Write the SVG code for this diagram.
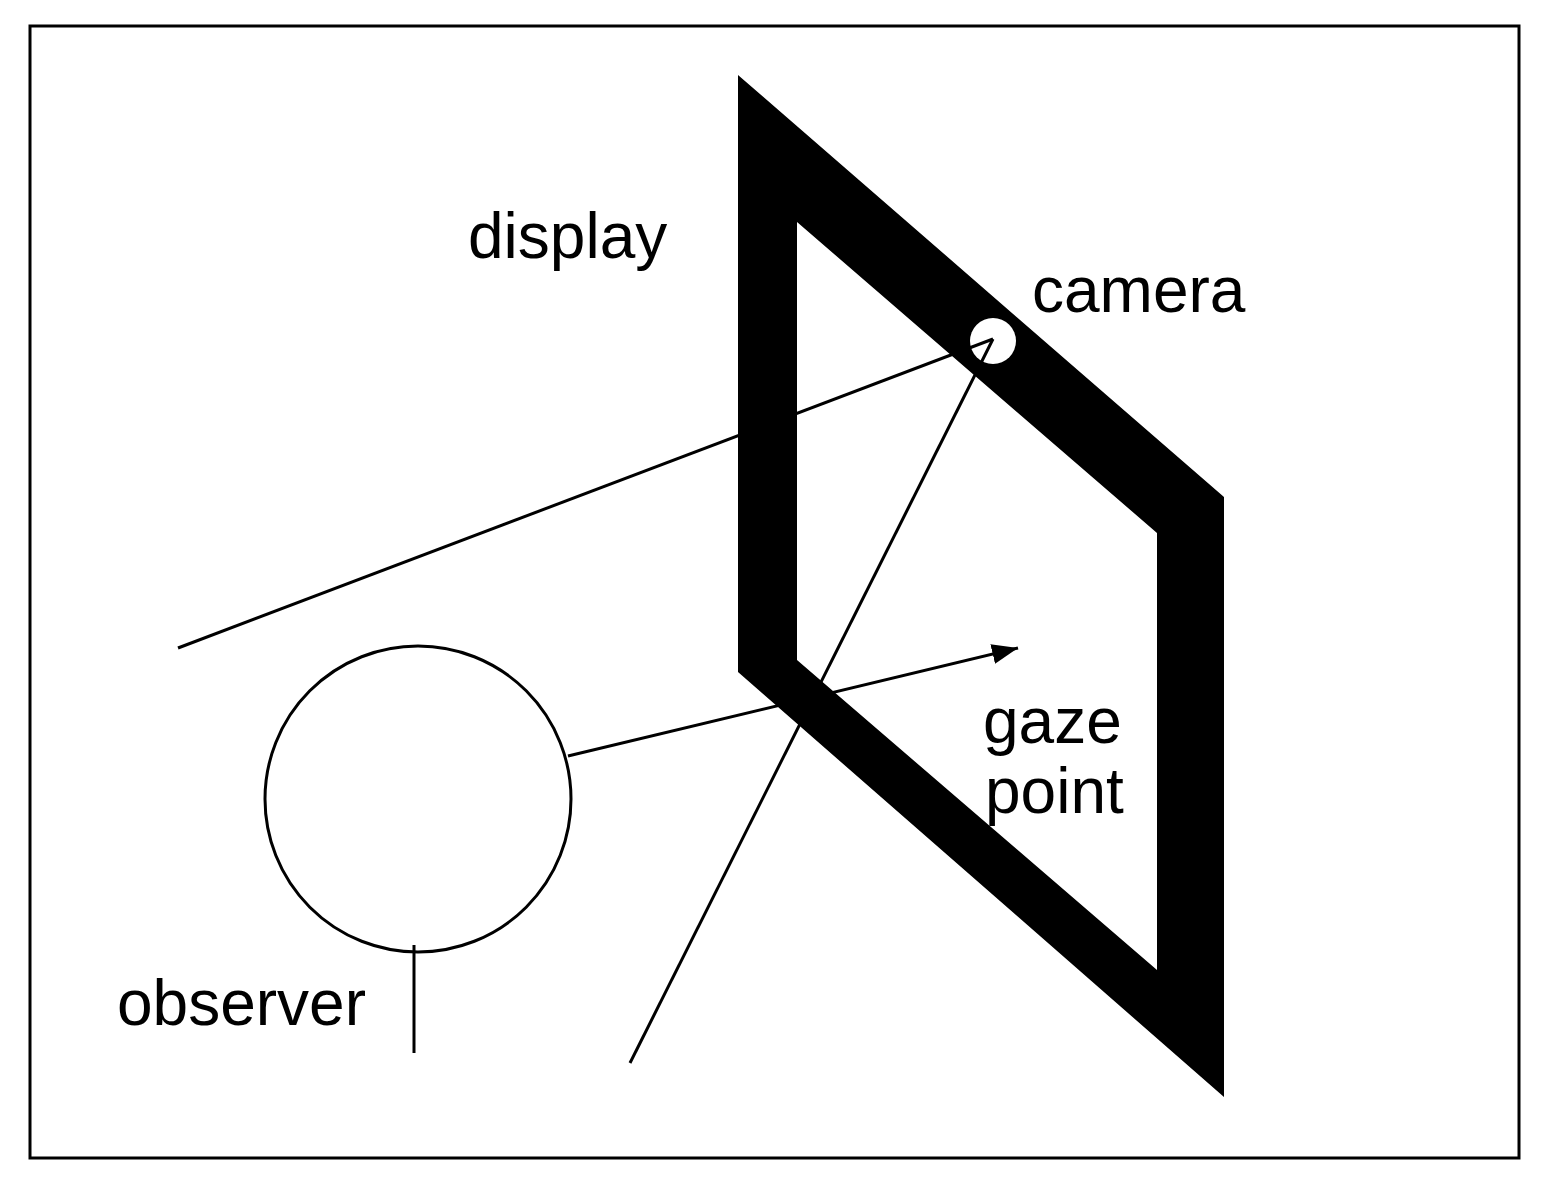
<svg xmlns="http://www.w3.org/2000/svg" width="1543" height="1183" viewBox="0 0 1543 1183">
<style>
.t{font-family:"Liberation Sans",Arial,sans-serif;font-size:64px;fill:#000}
.l{stroke:#000;stroke-width:3;fill:none}
</style>
<defs><marker id="ah" markerWidth="10" markerHeight="8" refX="9" refY="4" orient="auto" markerUnits="userSpaceOnUse" viewBox="0 0 10 8"><path d="M0,0L10,4L0,8z" fill="#000"/></marker>
<marker id="ah2" markerWidth="26" markerHeight="20" refX="26" refY="10" orient="auto" markerUnits="userSpaceOnUse"><path d="M0,0L26,10L0,20z" fill="#000"/></marker></defs>
<rect x="30" y="26" width="1489" height="1132" fill="#fff" stroke="#000" stroke-width="3"/>
<g id="display"><path d="M738,75L1224,497L1224,1097L738,672Z M797,222L797,660L1157,970L1157,533Z" fill="#000" fill-rule="evenodd"/>
<text class="t" x="468" y="258">display</text></g>
<g id="camera"><circle cx="993" cy="341" r="23" fill="#fff"/><text class="t" x="1032" y="312">camera</text></g>
<g id="observer"><circle cx="418" cy="799" r="153" class="l"/><text class="t" x="117" y="1025">observer</text></g>
<g id="gaze"><text class="t" x="983" y="743">gaze</text><text class="t" x="985" y="813">point</text></g>
<g id="connectors">
<line class="l" x1="178" y1="648" x2="993" y2="339"/>
<line class="l" x1="630" y1="1063" x2="993" y2="339"/>
<line class="l" x1="568" y1="756" x2="1018" y2="648" marker-end="url(#ah2)"/>
<line class="l" x1="414" y1="945" x2="414" y2="1053"/>
</g>
</svg>
